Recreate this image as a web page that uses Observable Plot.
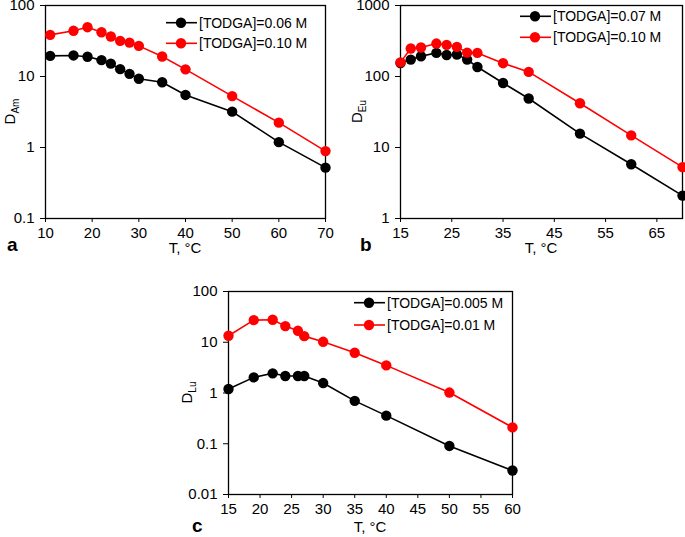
<!DOCTYPE html>
<html>
<head>
<meta charset="utf-8">
<script src="https://cdn.jsdelivr.net/npm/d3@7"></script>
<script src="https://cdn.jsdelivr.net/npm/@observablehq/plot@0.6"></script>
<style>
  html, body { margin: 0; padding: 0; background: #fff; }
  #fig { position: relative; width: 685px; height: 537px; font-family: "Liberation Sans", Arial, sans-serif; }
  #fig > div { position: absolute; }
  #fig svg { overflow: visible; }
</style>
</head>
<body>
<div id="fig"></div>
<script>
// Distribution ratios vs temperature for three metals
const tempAm = [11, 16, 19, 22, 24, 26, 28, 30, 35, 40, 50, 60, 70];
const dAmLow = [19.5, 19.8, 19, 17, 15.2, 12.7, 10.9, 9.3, 8.3, 5.5, 3.2, 1.19, 0.52];
const dAmHigh = [38.6, 44, 49.5, 42, 36.6, 31.8, 30, 27, 19.1, 12.6, 5.3, 2.24, 0.89];

const tempEu = [15, 17, 19, 22, 24, 26, 28, 30, 35, 40, 50, 60, 70];
const dEuLow = [155, 173, 193, 215, 201, 204, 173, 136, 81, 49, 15.7, 5.8, 2.1];
const dEuHigh = [158, 248, 256, 291, 279, 261, 217, 215, 154, 116, 42, 14.8, 5.3];

const tempLu = [15, 19, 22, 24, 26, 27, 30, 35, 40, 50, 60];
const dLuLow = [1.2, 2.03, 2.44, 2.16, 2.16, 2.16, 1.57, 0.70, 0.358, 0.0906, 0.0297];
const dLuHigh = [13.4, 27.3, 27.7, 20.8, 16.8, 13.2, 10.2, 6.2, 3.5, 1.02, 0.21];

const seriesAm = ["[TODGA]=0.06 M", "[TODGA]=0.10 M"];
const seriesEu = ["[TODGA]=0.07 M", "[TODGA]=0.10 M"];
const seriesLu = ["[TODGA]=0.005 M", "[TODGA]=0.01 M"];

const xTicksAm = [10, 20, 30, 40, 50, 60, 70];
const xTicksEu = [15, 25, 35, 45, 55, 65];
const xTicksLu = [15, 20, 25, 30, 35, 40, 45, 50, 55, 60];
const yTicksAm = [0.1, 1, 10, 100];
const yTicksEu = [1, 10, 100, 1000];
const yTicksLu = [0.01, 0.1, 1, 10, 100];

const colors = ["#000000", "#ff0000"];

function rows(temps, low, high, names) {
  return [
    ...temps.map((t, i) => ({T: t, D: low[i], s: names[0]})),
    ...temps.map((t, i) => ({T: t, D: high[i], s: names[1]}))
  ];
}

function panel(cfg) {
  const data = rows(cfg.temps, cfg.low, cfg.high, cfg.names);
  const chart = Plot.plot({
    width: cfg.width, height: cfg.height,
    marginLeft: cfg.ml, marginRight: cfg.mr, marginTop: cfg.mt, marginBottom: cfg.mb,
    style: {fontFamily: "Liberation Sans, Arial, sans-serif", fontSize: "15px", color: "#000", background: "transparent"},
    x: {domain: cfg.xDomain, ticks: cfg.xTicks, tickFormat: d => String(d), tickSize: 4, tickPadding: 5, label: null},
    y: {type: "log", domain: cfg.yDomain, ticks: cfg.yTicks, tickFormat: d => String(d), tickSize: 5, tickPadding: 6, label: null},
    color: {domain: cfg.names, range: colors},
    marks: [
      Plot.frame({stroke: "#000", strokeWidth: 1.3}),
      Plot.line(data, {x: "T", y: "D", z: "s", stroke: "s", strokeWidth: 1.6}),
      Plot.dot(data, {x: "T", y: "D", fill: "s", r: 5.2})
    ]
  });
  const svg = d3.select(chart);

  const plotL = cfg.ml, plotR = cfg.width - cfg.mr, plotT = cfg.mt, plotB = cfg.height - cfg.mb;

  // x-axis title
  svg.append("text")
    .attr("x", (plotL + plotR) / 2).attr("y", cfg.titleY)
    .attr("text-anchor", "middle").attr("font-size", 15)
    .text("T, °C");

  // panel letter
  svg.append("text")
    .attr("x", cfg.letterX).attr("y", cfg.letterY)
    .attr("text-anchor", "start")
    .attr("font-size", 19).attr("font-weight", "bold")
    .text(cfg.letter);

  // y-axis title with subscript
  const yt = svg.append("text")
    .attr("transform", `translate(${cfg.yTitleX},${(plotT + plotB) / 2}) rotate(-90)`)
    .attr("text-anchor", "middle").attr("font-size", 15);
  yt.append("tspan").text("D");
  yt.append("tspan").attr("font-size", 10).attr("dy", 4).text(cfg.sub);

  // legend
  cfg.names.forEach((name, i) => {
    const y = cfg.legY[i];
    const g = svg.append("g");
    g.append("line").attr("x1", cfg.legX).attr("x2", cfg.legX + 31)
      .attr("y1", y).attr("y2", y).attr("stroke", colors[i]).attr("stroke-width", 1.6);
    g.append("circle").attr("cx", cfg.legX + 15).attr("cy", y).attr("r", 5.2).attr("fill", colors[i]);
    g.append("text").attr("x", cfg.legX + 33).attr("y", y).attr("dy", "0.35em")
      .attr("text-anchor", "start")
      .attr("font-size", 14).text(name);
  });

  const wrap = document.createElement("div");
  wrap.style.left = cfg.left + "px";
  wrap.style.top = cfg.top + "px";
  wrap.appendChild(chart);
  document.getElementById("fig").appendChild(wrap);
}

panel({
  left: 0, top: 0, width: 335, height: 260, ml: 45, mr: 10, mt: 5, mb: 42,
  temps: tempAm, low: dAmLow, high: dAmHigh, names: seriesAm,
  xDomain: [10, 70], yDomain: [0.1, 100], xTicks: xTicksAm, yTicks: yTicksAm,
  titleY: 253, letter: "a", letterX: 7, letterY: 251, yTitleX: 15, sub: "Am",
  legX: 166, legY: [22.7, 43.3]
});

panel({
  left: 340, top: 0, width: 345, height: 260, ml: 60, mr: 3, mt: 5, mb: 42,
  temps: tempEu, low: dEuLow, high: dEuHigh, names: seriesEu,
  xDomain: [15, 70], yDomain: [1, 1000], xTicks: xTicksEu, yTicks: yTicksEu,
  titleY: 253, letter: "b", letterX: 20, letterY: 251, yTitleX: 22, sub: "Eu",
  legX: 180, legY: [16.3, 37.3]
});

panel({
  left: 170, top: 270, width: 350, height: 267, ml: 58, mr: 8, mt: 21, mb: 43,
  temps: tempLu, low: dLuLow, high: dLuHigh, names: seriesLu,
  xDomain: [15, 60], yDomain: [0.01, 100], xTicks: xTicksLu, yTicks: yTicksLu,
  titleY: 262, letter: "c", letterX: 22, letterY: 262, yTitleX: 22, sub: "Lu",
  legX: 184, legY: [32.7, 55]
});
</script>
</body>
</html>
